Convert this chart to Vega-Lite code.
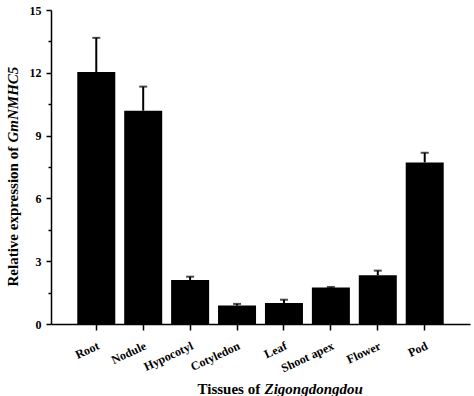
{
  "$schema": "https://vega.github.io/schema/vega-lite/v6.json",
  "width": 419,
  "height": 314,
  "autosize": {"type": "none"},
  "padding": {"left": 51, "top": 10, "right": 4, "bottom": 72},
  "background": "white",
  "config": {
    "view": {"stroke": null},
    "axis": {
      "grid": false,
      "labelFont": "Liberation Serif",
      "titleFont": "Liberation Serif",
      "labelFontWeight": "bold",
      "titleFontWeight": "bold",
      "labelColor": "black",
      "titleColor": "black",
      "domainColor": "black",
      "tickColor": "black",
      "domainWidth": 1.5,
      "tickWidth": 1.5
    }
  },
  "data": {
    "values": [
      {"tissue": "Root", "value": 12.04, "upper": 13.67},
      {"tissue": "Nodule", "value": 10.19, "upper": 11.34},
      {"tissue": "Hypocotyl", "value": 2.1, "upper": 2.26},
      {"tissue": "Cotyledon", "value": 0.88, "upper": 0.96},
      {"tissue": "Leaf", "value": 1.0, "upper": 1.16},
      {"tissue": "Shoot apex", "value": 1.74, "upper": 1.77},
      {"tissue": "Flower", "value": 2.33, "upper": 2.55},
      {"tissue": "Pod", "value": 7.72, "upper": 8.18}
    ]
  },
  "layer": [
    {
      "mark": {"type": "bar", "color": "black"},
      "encoding": {
        "x": {
          "field": "tissue", "type": "nominal", "sort": null,
          "scale": {"paddingInner": 0.19, "paddingOuter": 0.56},
          "axis": {
            "orient": "bottom", "labelAngle": -25, "labelAlign": "right", "labelBaseline": "top",
            "labelFontSize": 12, "labelPadding": 10, "tickSize": 6,
            "title": "Tissues of", "titleFontSize": 15, "titleAlign": "left",
            "titleBaseline": "alphabetic", "titleAnchor": "start", "titleX": 146, "titleY": 69
          }
        },
        "y": {
          "field": "value", "type": "quantitative",
          "scale": {"domain": [0, 15], "nice": false},
          "axis": {
            "orient": "left", "values": [0, 3, 6, 9, 12, 15], "tickSize": 5,
            "labelFontSize": 12, "labelPadding": 5,
            "title": "Relative expression of", "titleFontSize": 15, "titleAngle": 270,
            "titleAlign": "left", "titleBaseline": "alphabetic", "titleAnchor": "start",
            "titleX": -34, "titleY": 276
          }
        }
      }
    },
    {
      "mark": {"type": "rule", "color": "black", "strokeWidth": 2},
      "encoding": {
        "x": {"field": "tissue", "type": "nominal", "sort": null, "axis": null},
        "y": {"field": "value", "type": "quantitative", "axis": null},
        "y2": {"field": "upper"}
      }
    },
    {
      "mark": {"type": "tick", "color": "black", "thickness": 2, "size": 8},
      "encoding": {
        "x": {"field": "tissue", "type": "nominal", "sort": null, "axis": null},
        "y": {"field": "upper", "type": "quantitative", "axis": null}
      }
    },
    {
      "mark": {"type": "bar", "opacity": 0},
      "encoding": {
        "x": {
          "field": "tissue", "type": "nominal", "sort": null,
          "axis": {
            "orient": "bottom", "labels": false, "ticks": false, "domain": false,
            "title": "Zigongdongdou", "titleFontSize": 15, "titleFontStyle": "italic",
            "titleAlign": "left", "titleBaseline": "alphabetic", "titleAnchor": "start",
            "titleX": 213, "titleY": 69
          }
        },
        "y": {
          "field": "value", "type": "quantitative",
          "axis": {
            "orient": "left", "values": [1.5, 4.5, 7.5, 10.5, 13.5], "labels": false,
            "domain": false, "tickSize": 3,
            "title": "GmNMHC5", "titleFontSize": 15, "titleFontStyle": "italic", "titleAngle": 270,
            "titleAlign": "left", "titleBaseline": "alphabetic", "titleAnchor": "start",
            "titleX": -34, "titleY": 132
          }
        }
      }
    }
  ],
  "resolve": {"axis": {"x": "independent", "y": "independent"}}
}
